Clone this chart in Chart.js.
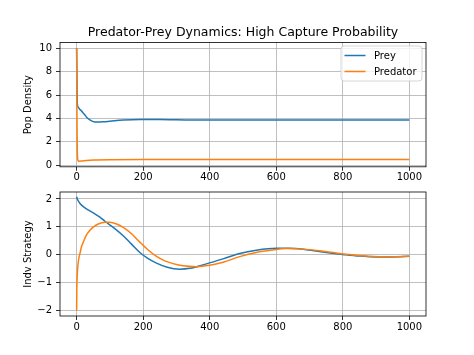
<!DOCTYPE html>
<html>
<head>
<meta charset="utf-8">
<script src="https://cdn.jsdelivr.net/npm/chart.js@4"></script>
<style>
  html, body { margin: 0; padding: 0; background: #fff; }
  #wrap { position: relative; width: 474px; height: 355px; }
  canvas { position: absolute; left: 0; top: 0; }
</style>
</head>
<body>
<div id="wrap">
  <canvas id="c1" width="474" height="355"></canvas>
  <canvas id="c2" width="474" height="355"></canvas>
</div>
<script>
// ---------- data ----------
const chartTitle = "Predator-Prey Dynamics: High Capture Probability";
const seriesNames = ["Prey", "Predator"];
const xTicks = [0, 200, 400, 600, 800, 1000];
const popTicks = [0, 2, 4, 6, 8, 10];
const stratTicks = [-2, -1, 0, 1, 2];

const preyPopX = [0, 2, 5, 10, 15, 20, 25, 30, 40, 50, 60, 80, 100, 140, 190, 250, 300, 400, 500, 600, 700, 800, 900, 1000];
const preyPop  = [10, 5.3, 4.95, 4.75, 4.62, 4.45, 4.28, 4.1, 3.86, 3.72, 3.68, 3.7, 3.75, 3.85, 3.9, 3.9, 3.88, 3.85, 3.85, 3.86, 3.86, 3.86, 3.85, 3.85];

const predPopX = [0, 1, 2, 4, 7, 15, 30, 60, 100, 200, 400, 600, 800, 1000];
const predPop  = [10, 4, 1.2, 0.4, 0.33, 0.35, 0.4, 0.43, 0.45, 0.47, 0.47, 0.47, 0.47, 0.47];

const preyStratX = [0, 2, 10, 25, 50, 70, 85, 110, 140, 165, 190, 215, 240, 270, 310, 340, 390, 440, 490, 540, 600, 640, 690, 750, 800, 850, 900, 950, 1000];
const preyStrat  = [2.08, 2.0, 1.84, 1.68, 1.5, 1.35, 1.2, 0.98, 0.68, 0.38, 0.08, -0.14, -0.3, -0.44, -0.52, -0.49, -0.33, -0.15, 0.04, 0.16, 0.23, 0.23, 0.18, 0.08, 0.01, -0.05, -0.08, -0.08, -0.06];

const predStratX = [0, 0.5, 1, 2, 4, 7, 10, 15, 20, 30, 40, 50, 65, 85, 100, 120, 140, 165, 190, 215, 240, 265, 290, 320, 360, 400, 440, 490, 540, 590, 630, 680, 730, 780, 830, 880, 930, 1000];
const predStrat  = [-2.0, -1.3, -1.0, -0.7, -0.35, -0.1, 0.05, 0.3, 0.45, 0.72, 0.88, 0.99, 1.1, 1.16, 1.16, 1.1, 0.98, 0.75, 0.45, 0.17, -0.06, -0.22, -0.32, -0.4, -0.43, -0.38, -0.27, -0.07, 0.08, 0.17, 0.22, 0.2, 0.14, 0.06, -0.01, -0.06, -0.08, -0.06];

// ---------- styling ----------
const BLUE = '#1f77b4', ORANGE = '#ff7f0e';
const FONT = 'DejaVu Sans';
Chart.defaults.font.family = FONT;
Chart.defaults.color = '#000';

function pts(xs, ys) { return xs.map((x, i) => ({ x: x, y: ys[i] })); }

const framePlugin = {
  id: 'frame',
  afterDatasetsDraw(chart) {
    const a = chart.chartArea, ctx = chart.ctx;
    ctx.save();
    ctx.strokeStyle = '#000';
    ctx.lineWidth = 0.8;
    ctx.strokeRect(a.left, a.top, a.right - a.left, a.bottom - a.top);
    ctx.restore();
  }
};

const legendPlugin = {
  id: 'mplLegend',
  afterDraw(chart, args, opts) {
    if (!opts || !opts.show) return;
    const a = chart.chartArea, ctx = chart.ctx;
    const w = 81, h = 35;
    const x0 = a.right - 4 - w, y0 = a.top + 3.5;
    ctx.save();
    ctx.beginPath();
    if (ctx.roundRect) ctx.roundRect(x0, y0, w, h, 3); else ctx.rect(x0, y0, w, h);
    ctx.fillStyle = 'rgba(255,255,255,0.8)';
    ctx.fill();
    ctx.strokeStyle = '#cccccc';
    ctx.lineWidth = 0.8;
    ctx.stroke();
    ctx.font = '10px "' + FONT + '"';
    ctx.textBaseline = 'middle';
    ctx.textAlign = 'left';
    const items = [
      { label: seriesNames[0], color: BLUE },
      { label: seriesNames[1], color: ORANGE }
    ];
    items.forEach((it, i) => {
      const y = y0 + 9.5 + i * 16;
      ctx.strokeStyle = it.color;
      ctx.lineWidth = 1.5;
      ctx.beginPath();
      ctx.moveTo(x0 + 3.5, y);
      ctx.lineTo(x0 + 24.5, y);
      ctx.stroke();
      ctx.fillStyle = '#000';
      ctx.fillText(it.label, x0 + 33, y + 0.5);
    });
    ctx.restore();
  }
};

function makeChart(id, cfg) {
  const yTickVals = cfg.yTicks;
  return new Chart(document.getElementById(id), {
    type: 'line',
    data: {
      datasets: [
        { label: seriesNames[0], data: pts(cfg.ax, cfg.ay), borderColor: BLUE, borderWidth: 1.5, pointRadius: 0, cubicInterpolationMode: 'monotone', order: 1 },
        { label: seriesNames[1], data: pts(cfg.bx, cfg.by), borderColor: ORANGE, borderWidth: 1.5, pointRadius: 0, cubicInterpolationMode: 'monotone', order: 0 }
      ]
    },
    options: {
      responsive: false,
      animation: false,
      devicePixelRatio: 1,
      layout: { padding: cfg.padding },
      plugins: {
        legend: { display: false },
        tooltip: { enabled: false },
        title: cfg.title ? {
          display: true, text: cfg.title, fullSize: false, align: 'center',
          font: { family: FONT, size: 12.5, weight: 'normal' },
          color: '#000',
          padding: { top: 25, bottom: 2.5 }
        } : { display: false },
        mplLegend: { show: !!cfg.legend }
      },
      scales: {
        x: {
          type: 'linear',
          min: -50, max: 1050,
          afterBuildTicks: s => { s.ticks = xTicks.map(v => ({ value: v })); },
          afterFit: s => { s.height = 20; },
          ticks: { font: { family: FONT, size: 10 }, color: '#000', padding: 1, maxRotation: 0, autoSkip: false,
                   callback: v => String(v) },
          grid: { color: '#b0b0b0', lineWidth: 0.8, tickLength: 4, tickColor: '#000', tickWidth: 0.8 },
          border: { display: false }
        },
        y: {
          type: 'linear',
          min: cfg.ymin, max: cfg.ymax,
          afterBuildTicks: s => { s.ticks = yTickVals.map(v => ({ value: v })); },
          afterFit: s => { s.width = 37.7; },
          ticks: { font: { family: FONT, size: 10 }, color: '#000', padding: 4, autoSkip: false,
                   callback: v => (v < 0 ? '\u2212' + Math.abs(v) : String(v)) },
          grid: { color: '#b0b0b0', lineWidth: 0.8, tickLength: 4, tickColor: '#000', tickWidth: 0.8 },
          border: { display: false },
          title: { display: true, text: cfg.ylabel, font: { family: FONT, size: 10 }, color: '#000', padding: { top: 0, bottom: 0 } }
        }
      }
    },
    plugins: [framePlugin, legendPlugin]
  });
}

makeChart('c1', {
  ax: preyPopX, ay: preyPop, bx: predPopX, by: predPop,
  yTicks: popTicks, ymin: -0.15, ymax: 10.5,
  ylabel: 'Pop Density', title: chartTitle, legend: true,
  padding: { left: 22.3, right: 48, top: 0, bottom: 355 - 166.8 - 20 }
});

makeChart('c2', {
  ax: preyStratX, ay: preyStrat, bx: predStratX, by: predStrat,
  yTicks: stratTicks, ymin: -2.2, ymax: 2.25,
  ylabel: 'Indv Strategy', title: null, legend: false,
  padding: { left: 22.3, right: 48, top: 192, bottom: 355 - 316 - 20 }
});
</script>
</body>
</html>
